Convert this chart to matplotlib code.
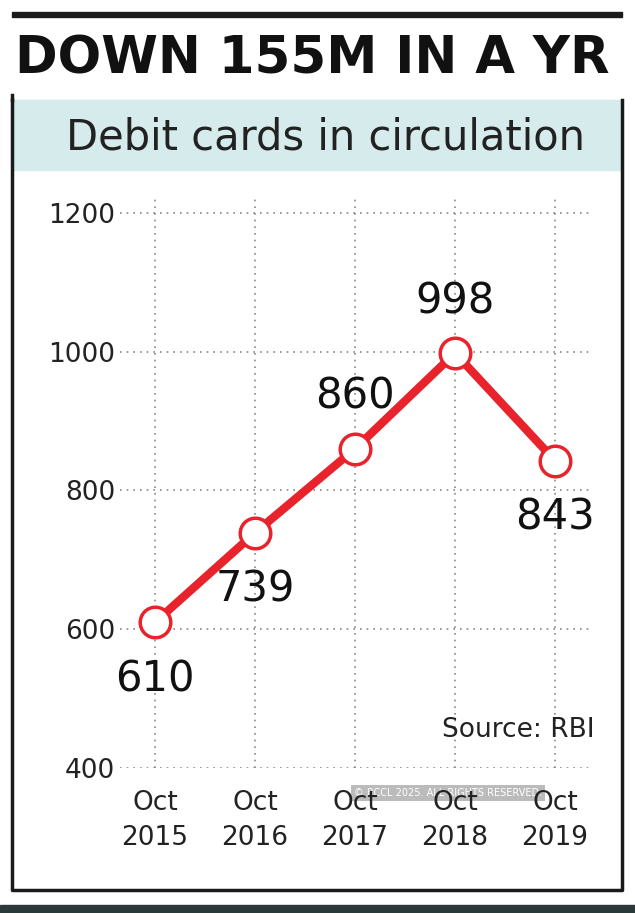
import matplotlib.pyplot as plt
from matplotlib.patches import Rectangle

years = ["Oct\n2015", "Oct\n2016", "Oct\n2017", "Oct\n2018", "Oct\n2019"]
cards = [610, 739, 860, 998, 843]
label_above = [False, False, True, True, False]
yticks = [400, 600, 800, 1000, 1200]

RED = "#e8232b"
W, H = 635, 913
fig = plt.figure(figsize=(W / 100, H / 100), dpi=100)

def fx(px):
    return px / W

def fy(py):
    return 1 - py / H

# frame and header
bg = fig.add_axes([0, 0, 1, 1])
bg.set_xlim(0, W)
bg.set_ylim(H, 0)
bg.axis("off")
bg.add_patch(Rectangle((12, 12), 610, 5, color="#1a1a1a"))
bg.add_patch(Rectangle((14, 100), 606, 70, color="#d6ecec"))
bg.plot([12, 12, 622, 622], [100, 890, 890, 100], color="#1a1a1a", lw=2.5)
bg.plot([12, 12], [95, 100], color="#1a1a1a", lw=2.5)
bg.add_patch(Rectangle((0, 905), W, 8, color="#2a3a3a"))
bg.text(312, 60, "DOWN 155M IN A YR", ha="center", va="center",
        fontsize=37, fontweight="bold", color="#111111")
bg.text(325, 137, "Debit cards in circulation", ha="center", va="center",
        fontsize=30, color="#222222")

ax = fig.add_axes([fx(120), fy(768), fx(590) - fx(120), fy(199) - fy(768)])
ax.set_xlim(-0.35, 4.35)
ax.set_ylim(400, 1220)
x = list(range(len(cards)))
ax.plot(x, cards, color=RED, lw=6, zorder=3, solid_capstyle="round")
ax.plot(x, cards, "o", ms=22, mfc="white", mec=RED, mew=2.5, zorder=4)
for xi, v, up in zip(x, cards, label_above):
    off = 75 if up else -82
    ax.text(xi, v + off, str(v), ha="center", va="center", fontsize=30,
            color="#111111")

ax.set_yticks(yticks)
ax.set_xticks(x)
ax.set_xticklabels(years, linespacing=1.45)
ax.tick_params(length=0, labelsize=19)
ax.tick_params(axis="x", pad=16)
for lab in ax.get_xticklabels() + ax.get_yticklabels():
    lab.set_color("#222222")
ax.grid(True, linestyle=(0, (1, 3)), color="#888888", lw=1.2)
for s in ax.spines.values():
    s.set_visible(False)
ax.text(4.4, 455, "Source: RBI", ha="right", va="center", fontsize=19,
        color="#222222")

# watermark sits over the tick labels, as in the source image
bg.text(448, 793, "© BCCL 2025. ALL RIGHTS RESERVED.", ha="center", va="center",
        fontsize=7, color="white", zorder=10,
        bbox=dict(boxstyle="square,pad=0.3", fc="#b0b0b0", ec="none", alpha=0.85))

fig.savefig("out.png", dpi=100)
